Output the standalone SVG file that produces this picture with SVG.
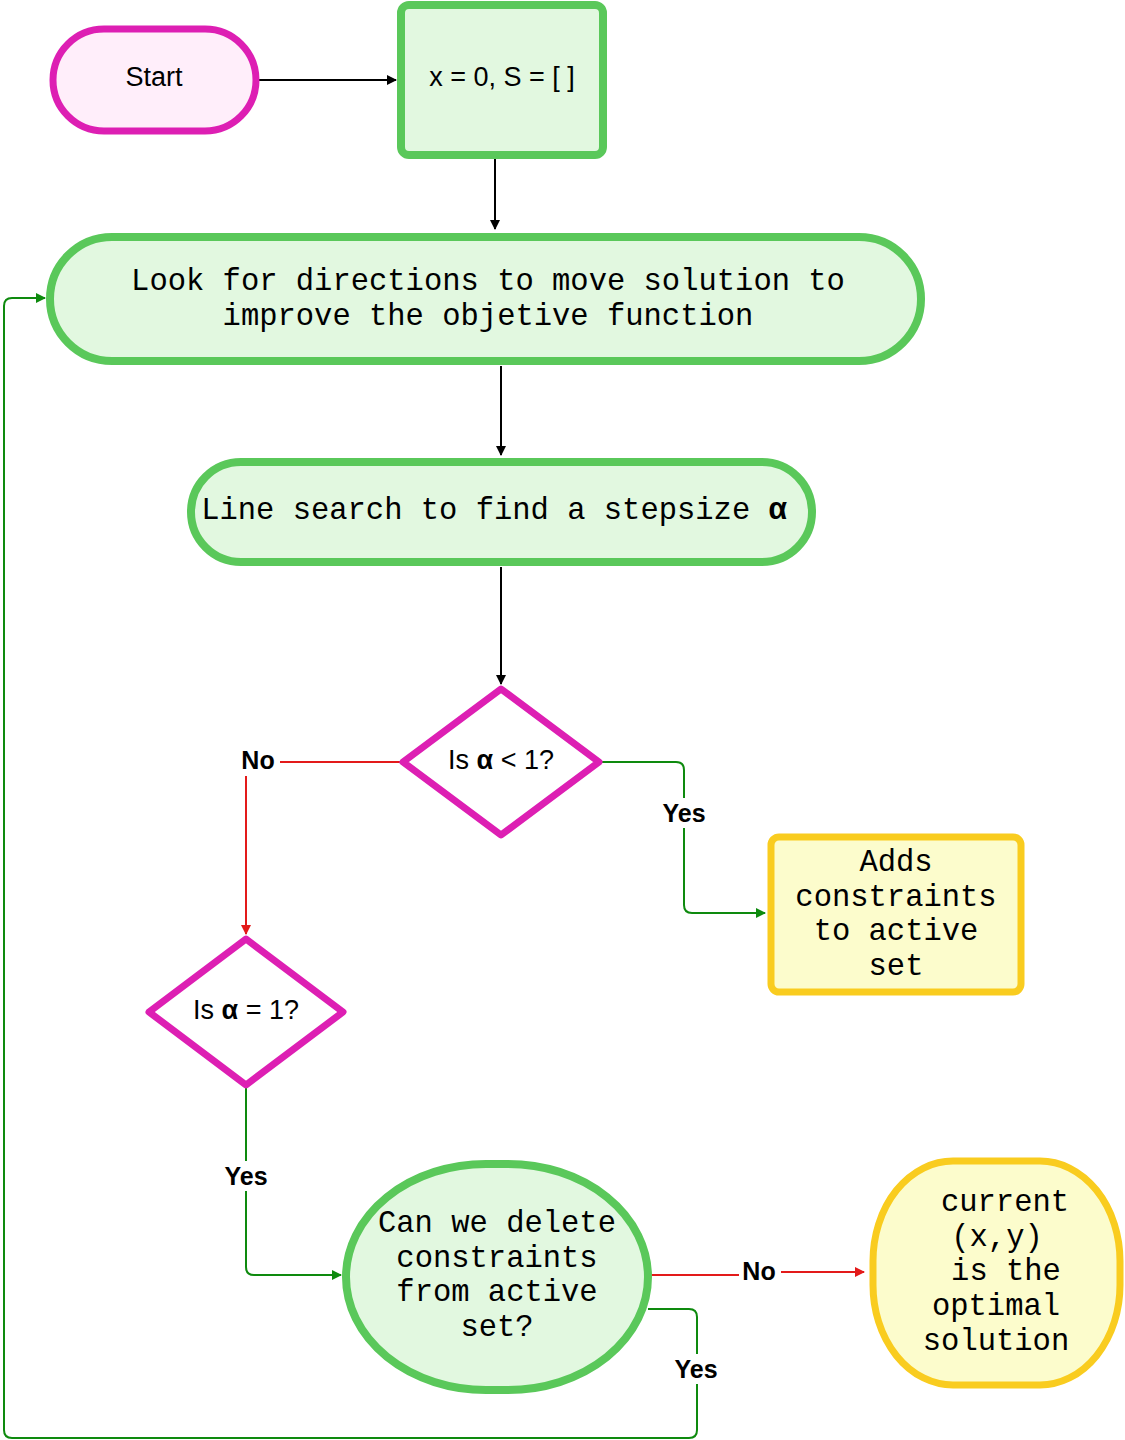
<svg xmlns="http://www.w3.org/2000/svg" width="1125" height="1440" viewBox="0 0 1125 1440">
<defs>
<marker id="ak" markerWidth="10" markerHeight="10" refX="9" refY="5" orient="auto" markerUnits="userSpaceOnUse" viewBox="0 0 10 10"><path d="M0,0 L10,5 L0,10 z" fill="#000"/></marker>
<marker id="ar" markerWidth="10" markerHeight="10" refX="9" refY="5" orient="auto" markerUnits="userSpaceOnUse" viewBox="0 0 10 10"><path d="M0,0 L10,5 L0,10 z" fill="#e31a1a"/></marker>
<marker id="ag" markerWidth="10" markerHeight="10" refX="9" refY="5" orient="auto" markerUnits="userSpaceOnUse" viewBox="0 0 10 10"><path d="M0,0 L10,5 L0,10 z" fill="#0e8a0e"/></marker>
</defs>
<style>
.g{fill:#e2f8e0;stroke:#5ac85a;stroke-width:8}
.p{stroke:#dd1fb3;stroke-width:7}
.y{fill:#fcfccc;stroke:#f9cc1f;stroke-width:7}
.m{font-family:"Liberation Mono",monospace;font-size:30.5px;text-anchor:middle;fill:#000}
.s{font-family:"Liberation Sans",Arial,sans-serif;font-size:27px;text-anchor:middle;fill:#000}
.l{font-family:"Liberation Sans",Arial,sans-serif;font-size:25px;font-weight:bold;text-anchor:middle;fill:#000}
.k{fill:none;stroke:#000;stroke-width:2}
.r{fill:none;stroke:#e31a1a;stroke-width:2}
.gr{fill:none;stroke:#0e8a0e;stroke-width:2}
</style>
<g id="connectors">
<path class="k" d="M258,80 H396" marker-end="url(#ak)"/>
<path class="k" d="M495,158 V229" marker-end="url(#ak)"/>
<path class="k" d="M501,366 V455" marker-end="url(#ak)"/>
<path class="k" d="M501,567 V684" marker-end="url(#ak)"/>
<path class="r" d="M403,762 H246 V934" marker-end="url(#ar)"/>
<path class="gr" d="M600,762 H676 Q684,762 684,770 V905 Q684,913 692,913 H765" marker-end="url(#ag)"/>
<path class="gr" d="M246,1088 V1267 Q246,1275 254,1275 H341" marker-end="url(#ag)"/>
<path class="r" d="M651,1275 H760 V1272 H864" marker-end="url(#ar)"/>
<path class="gr" d="M648,1309 H689 Q697,1309 697,1317 V1430 Q697,1438 689,1438 H12 Q4,1438 4,1430 V306 Q4,298 12,298 H45" marker-end="url(#ag)"/>
<rect x="236" y="746" width="44" height="30" fill="#fff"/>
<text class="l" x="258" y="769">No</text>
<rect x="656" y="798" width="56" height="30" fill="#fff"/>
<text class="l" x="684" y="822">Yes</text>
<rect x="218" y="1161" width="56" height="30" fill="#fff"/>
<text class="l" x="246" y="1185">Yes</text>
<rect x="739" y="1257" width="42" height="28" fill="#fff"/>
<text class="l" x="759" y="1280">No</text>
<rect x="668" y="1354" width="56" height="30" fill="#fff"/>
<text class="l" x="696" y="1378">Yes</text>
</g>
<g id="start"><rect x="53" y="29" width="203" height="102" rx="51" fill="#ffeefa" class="p"/><text class="s" x="154" y="86">Start</text></g>
<g id="init"><rect x="401" y="5" width="202" height="150" rx="8" class="g"/><text class="s" x="502" y="86">x = 0, S = [ ]</text></g>
<g id="look"><rect x="50" y="237" width="871" height="124" rx="62" class="g"/><text class="m" x="488" y="290">Look for directions to move solution to</text><text class="m" x="488" y="325">improve the objetive function</text></g>
<g id="line"><rect x="191" y="462" width="621" height="100" rx="50" class="g"/><text class="m" x="494" y="519">Line search to find a stepsize <tspan font-weight="bold">α</tspan></text></g>
<g id="d1"><path d="M501,689 L599,762 L501,835 L403,762 Z" fill="#fff" class="p" stroke-linejoin="round"/><text class="s" x="501" y="769">Is <tspan font-weight="bold">α</tspan> &lt; 1?</text></g>
<g id="adds"><rect x="771" y="837" width="250" height="155" rx="8" class="y"/><text class="m" x="896" y="871">Adds</text><text class="m" x="896" y="906">constraints</text><text class="m" x="896" y="940">to active</text><text class="m" x="896" y="975">set</text></g>
<g id="d2"><path d="M246,939 L343,1012 L246,1085 L149,1012 Z" fill="#fff" class="p" stroke-linejoin="round"/><text class="s" x="246" y="1019">Is <tspan font-weight="bold">α</tspan> = 1?</text></g>
<g id="del"><rect x="346" y="1164" width="302" height="226" rx="140" ry="113" class="g"/><text class="m" x="497" y="1232">Can we delete</text><text class="m" x="497" y="1267">constraints</text><text class="m" x="497" y="1301">from active</text><text class="m" x="497" y="1336">set?</text></g>
<g id="opt"><rect x="873" y="1161" width="247" height="224" rx="80" ry="100" class="y"/><text class="m" x="1005" y="1211">current</text><text class="m" x="997" y="1246">(x,y)</text><text class="m" x="1006" y="1280">is the</text><text class="m" x="996" y="1315">optimal</text><text class="m" x="996" y="1350">solution</text></g>
</svg>
